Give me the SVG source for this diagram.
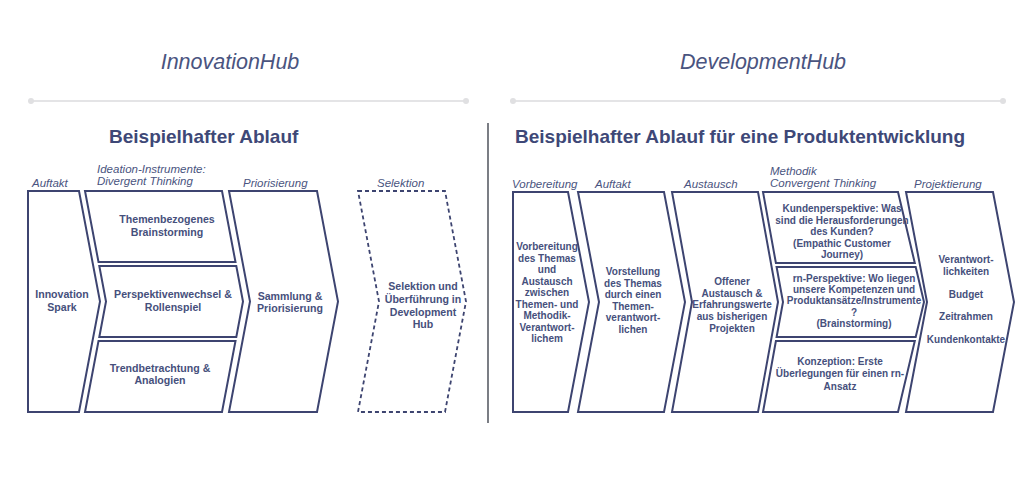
<svg xmlns="http://www.w3.org/2000/svg" width="1024" height="495" viewBox="0 0 1024 495">
<style>
.hub{font-family:"Liberation Sans",Arial,sans-serif;font-style:italic;font-size:21.5px;fill:#4a5480;text-anchor:middle}
.ttl{font-family:"Liberation Sans",Arial,sans-serif;font-weight:bold;font-size:19px;fill:#3e4877}
.lbl{font-family:"Liberation Sans",Arial,sans-serif;font-style:italic;font-size:11.5px;fill:#4a5480}
.t{font-family:"Liberation Sans",Arial,sans-serif;font-weight:bold;font-size:10.6px;fill:#46507c;text-anchor:middle}
.r{font-size:10px}
.box{fill:#fff;stroke:#3d4470;stroke-width:2;stroke-linejoin:miter}
.dash{fill:#fff;stroke:#3d4470;stroke-width:1.8;stroke-dasharray:4 3}
.rule{stroke:#e4e4e6;stroke-width:2}
.dot{fill:#e0e0e2}
</style>
<rect width="1024" height="495" fill="#fff"/>
<g id="headers">
<text class="hub" x="230" y="69">InnovationHub</text>
<text class="hub" x="763" y="69">DevelopmentHub</text>
<line class="rule" x1="31" y1="101" x2="466" y2="101"/>
<circle class="dot" cx="31" cy="101" r="3"/>
<circle class="dot" cx="466" cy="101" r="3"/>
<line class="rule" x1="513" y1="101" x2="1003" y2="101"/>
<circle class="dot" cx="513" cy="101" r="3"/>
<circle class="dot" cx="1003" cy="101" r="3"/>
<text class="ttl" x="109" y="143">Beispielhafter Ablauf</text>
<text class="ttl" x="515" y="143">Beispielhafter Ablauf für eine Produktentwicklung</text>
<line x1="488" y1="123" x2="488" y2="423" stroke="#5a5d66" stroke-width="1.6"/>
</g>
<g id="labels">
<text class="lbl" x="32" y="187">Auftakt</text>
<text class="lbl" x="97" y="173">Ideation-Instrumente:</text>
<text class="lbl" x="97" y="185">Divergent Thinking</text>
<text class="lbl" x="243" y="187">Priorisierung</text>
<text class="lbl" x="377" y="187">Selektion</text>
<text class="lbl" x="512" y="188">Vorbereitung</text>
<text class="lbl" x="595" y="188">Auftakt</text>
<text class="lbl" x="684" y="188">Austausch</text>
<text class="lbl" x="770" y="175">Methodik</text>
<text class="lbl" x="770" y="187">Convergent Thinking</text>
<text class="lbl" x="914" y="188">Projektierung</text>
</g>
<g id="innovation-spark">
<polygon class="box" points="28,191 79,191 100,301.5 79,412 28,412"/>
<text class="t"><tspan x="62" y="298">Innovation</tspan><tspan x="62" y="311">Spark</tspan></text>
</g>
<g id="themen-brainstorming">
<polygon class="box" points="85,191 222,191 235.5,262 98.5,262"/>
<text class="t"><tspan x="167" y="223">Themenbezogenes</tspan><tspan x="167" y="236">Brainstorming</tspan></text>
</g>
<g id="perspektivenwechsel">
<polygon class="box" points="99.3,266 236.3,266 243,301.5 236.3,337 99.3,337 106,301.5"/>
<text class="t"><tspan x="173" y="298">Perspektivenwechsel &amp;</tspan><tspan x="173" y="311">Rollenspiel</tspan></text>
</g>
<g id="trendbetrachtung">
<polygon class="box" points="98.5,341 235.5,341 222,412 85,412"/>
<text class="t"><tspan x="160" y="372">Trendbetrachtung &amp;</tspan><tspan x="160" y="384">Analogien</tspan></text>
</g>
<g id="sammlung">
<polygon class="box" points="229,191 317,191 338,301.5 317,412 229,412 250,301.5"/>
<text class="t"><tspan x="290" y="300">Sammlung &amp;</tspan><tspan x="290" y="312">Priorisierung</tspan></text>
</g>
<g id="selektion">
<polygon class="dash" points="358,191 445,191 466,301.5 445,412 358,412 379,301.5"/>
<text class="t"><tspan x="423" y="290">Selektion und</tspan><tspan x="423" y="303">Überführung in</tspan><tspan x="423" y="316">Development</tspan><tspan x="423" y="328">Hub</tspan></text>
</g>
<g id="vorbereitung">
<polygon class="box" points="513,192 568,192 589,302 568,412 513,412"/>
<text class="t r"><tspan x="547" y="250">Vorbereitung</tspan><tspan x="547" y="261.5">des Themas</tspan><tspan x="547" y="273">und</tspan><tspan x="547" y="284.5">Austausch</tspan><tspan x="547" y="296">zwischen</tspan><tspan x="547" y="307.5">Themen- und</tspan><tspan x="547" y="319">Methodik-</tspan><tspan x="547" y="330.5">Verantwort-</tspan><tspan x="547" y="342">lichem</tspan></text>
</g>
<g id="auftakt">
<polygon class="box" points="578,192 664,192 685,302 664,412 578,412 599,302"/>
<text class="t r"><tspan x="633" y="275">Vorstellung</tspan><tspan x="633" y="286.6">des Themas</tspan><tspan x="633" y="298.2">durch einen</tspan><tspan x="633" y="309.8">Themen-</tspan><tspan x="633" y="321.4">verantwort-</tspan><tspan x="633" y="333">lichen</tspan></text>
</g>
<g id="austausch">
<polygon class="box" points="672,192 758,192 778,302 758,412 672,412 692,302"/>
<text class="t r"><tspan x="732" y="285">Offener</tspan><tspan x="732" y="296.7">Austausch &amp;</tspan><tspan x="732" y="308.4">Erfahrungswerte</tspan><tspan x="732" y="320.1">aus bisherigen</tspan><tspan x="732" y="331.8">Projekten</tspan></text>
</g>
<g id="kundenperspektive">
<polygon class="box" points="763,192 898,192 914.8,263 775.9,263"/>
<text class="t r"><tspan x="842" y="212">Kundenperspektive:  Was</tspan><tspan x="842" y="223.5">sind die Herausforderungen</tspan><tspan x="842" y="235">des Kunden?</tspan><tspan x="842" y="246.5">(Empathic Customer</tspan><tspan x="842" y="258">Journey)</tspan></text>
</g>
<g id="rn-perspektive">
<polygon class="box" points="776.6,267 915.7,267 924,302 915.7,337 776.6,337 783,302"/>
<text class="t r"><tspan x="854" y="282">rn-Perspektive: Wo liegen</tspan><tspan x="854" y="293.2">unsere Kompetenzen und</tspan><tspan x="854" y="304.4">Produktansätze/Instrumente</tspan><tspan x="854" y="315.6">?</tspan><tspan x="854" y="326.8">(Brainstorming)</tspan></text>
</g>
<g id="konzeption">
<polygon class="box" points="775.9,341 914.8,341 898,412 763,412"/>
<text class="t r"><tspan x="840" y="365">Konzeption:  Erste</tspan><tspan x="840" y="377">Überlegungen für einen rn-</tspan><tspan x="840" y="389.5">Ansatz</tspan></text>
</g>
<g id="projektierung">
<polygon class="box" points="906,192 993,192 1014,302 993,412 906,412 927,302"/>
<text class="t r"><tspan x="966" y="263">Verantwort-</tspan><tspan x="966" y="274.5">lichkeiten</tspan><tspan x="966" y="298">Budget</tspan><tspan x="966" y="320">Zeitrahmen</tspan><tspan x="966" y="343">Kundenkontakte</tspan></text>
</g>
<g id="connectors"></g>
</svg>
